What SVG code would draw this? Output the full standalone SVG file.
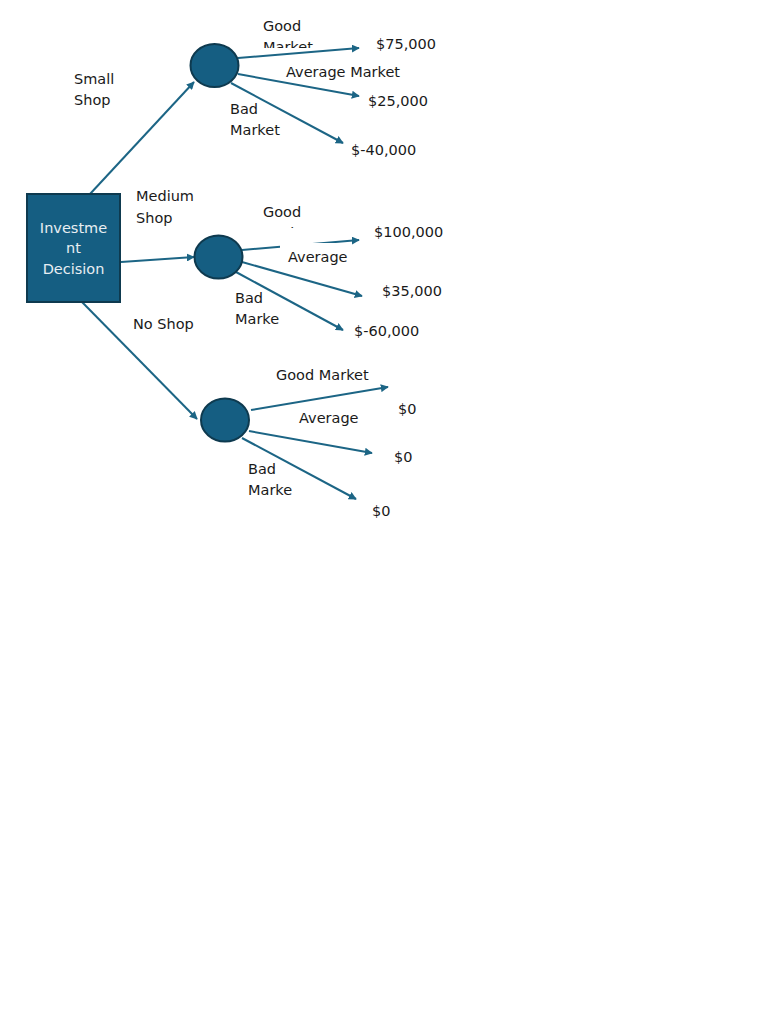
<svg xmlns="http://www.w3.org/2000/svg" width="768" height="1024" viewBox="0 0 768 1024">
<style>
text{font-family:"DejaVu Sans",sans-serif;font-size:14.5px;fill:#1a1a1a}
.c{fill:#155e82;stroke:#0e3a4f;stroke-width:2}
.l{stroke:#1c6585;stroke-width:2;fill:none;marker-end:url(#a)}
.bg{fill:#fff}
</style>
<defs>
<marker id="a" viewBox="0 0 10 10" refX="9" refY="5" markerWidth="4" markerHeight="4" orient="auto"><path d="M0,0L10,5L0,10z" fill="#1c6585"/></marker>
<clipPath id="k1"><rect x="255" y="10" width="80" height="38"/></clipPath>
<clipPath id="k2"><rect x="225" y="95" width="80" height="50"/></clipPath>
<clipPath id="k3"><rect x="255" y="200" width="80" height="28"/></clipPath>
</defs>
<rect width="768" height="1024" fill="#fff"/>
<g id="connectors">
<path class="l" d="M90,194L194,82"/>
<path class="l" d="M121,262L194,257"/>
<path class="l" d="M82,302L197,419"/>
<path class="l" d="M238,58L359,48"/>
<path class="l" d="M238,74L359,96"/>
<path class="l" d="M231,83L343,143"/>
<path class="l" d="M242,250L359,240"/>
<path class="l" d="M242,262L362,296"/>
<path class="l" d="M236,272L343,330"/>
<path class="l" d="M251,410L388,387"/>
<path class="l" d="M249,431L372,453"/>
<path class="l" d="M242,438L356,499"/>
</g>
<g id="decision"><rect x="27" y="194" width="93" height="108" fill="#155e82" stroke="#0e3a4f" stroke-width="2"/>
<text x="73.5" y="233" text-anchor="middle" style="fill:#e8eef2">Investme</text>
<text x="73.5" y="253" text-anchor="middle" style="fill:#e8eef2">nt</text>
<text x="73.5" y="274" text-anchor="middle" style="fill:#e8eef2">Decision</text></g>
<g id="chance1"><ellipse class="c" cx="214.5" cy="65.5" rx="24" ry="21.5"/></g>
<g id="chance2"><ellipse class="c" cx="218.5" cy="257" rx="24" ry="21.5"/></g>
<g id="chance3"><ellipse class="c" cx="225" cy="420" rx="24" ry="21.5"/></g>
<g id="labels">
<text x="74" y="84">Small</text><text x="74" y="105">Shop</text>
<text x="136" y="201">Medium</text><text x="136" y="223">Shop</text>
<text x="133" y="329">No Shop</text>
<g clip-path="url(#k1)"><text x="263" y="31">Good</text><text x="263" y="52">Market</text></g>
<rect class="bg" x="284" y="62" width="122" height="16"/><text x="286" y="77">Average Market</text>
<g clip-path="url(#k2)"><text x="230" y="114">Bad</text><text x="230" y="135">Market</text><text x="230" y="156">t</text></g>
<text x="376" y="49">$75,000</text><text x="368" y="106">$25,000</text><text x="351" y="155">$-40,000</text>
<g clip-path="url(#k3)"><text x="263" y="217">Good</text><text x="263" y="238">Market</text></g>
<rect class="bg" x="280" y="243" width="72" height="22"/><text x="288" y="262">Average</text>
<text x="235" y="303">Bad</text><text x="235" y="324">Marke</text>
<text x="374" y="237">$100,000</text><text x="382" y="296">$35,000</text><text x="354" y="336">$-60,000</text>
<text x="276" y="380">Good Market</text>
<rect class="bg" x="295" y="408" width="68" height="20"/><text x="299" y="423">Average</text>
<text x="248" y="474">Bad</text><text x="248" y="495">Marke</text>
<text x="398" y="414">$0</text><text x="394" y="462">$0</text><text x="372" y="516">$0</text>
</g>
</svg>
